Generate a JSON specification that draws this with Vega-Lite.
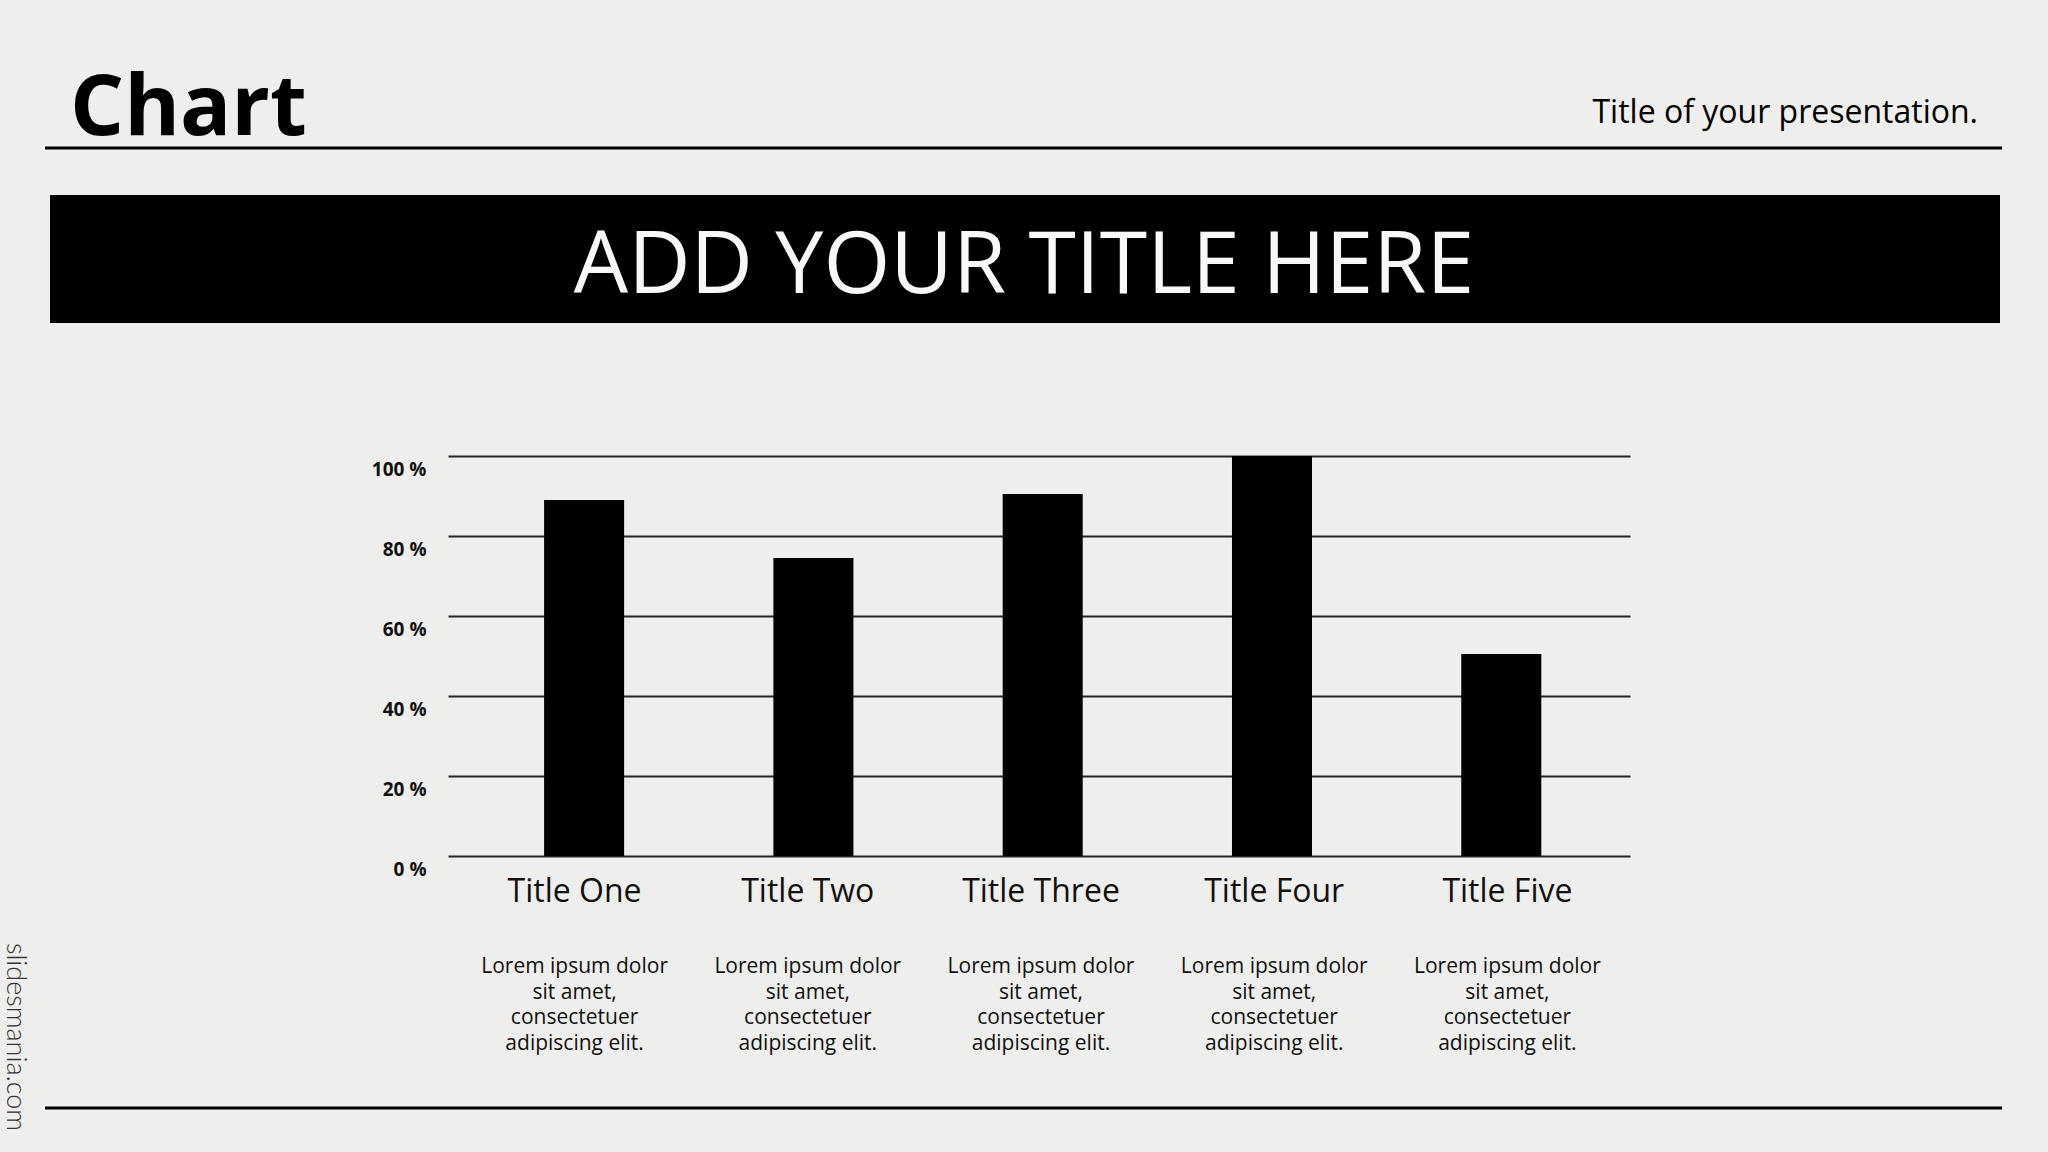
{
  "$schema": "https://vega.github.io/schema/vega-lite/v6.json",
  "width": 1182,
  "height": 400,
  "autosize": {"type": "none"},
  "padding": {"left": 448, "top": 456, "right": 418, "bottom": 296},
  "background": "#eeeeec",
  "config": {"view": {"stroke": null}, "font": "Open Sans"},
  "datasets": {
    "bars": [
      {"title": "Title One", "value": 89, "desc": "Lorem ipsum dolor\nsit amet,\nconsectetuer\nadipiscing elit."},
      {"title": "Title Two", "value": 74.5, "desc": "Lorem ipsum dolor\nsit amet,\nconsectetuer\nadipiscing elit."},
      {"title": "Title Three", "value": 90.5, "desc": "Lorem ipsum dolor\nsit amet,\nconsectetuer\nadipiscing elit."},
      {"title": "Title Four", "value": 100, "desc": "Lorem ipsum dolor\nsit amet,\nconsectetuer\nadipiscing elit."},
      {"title": "Title Five", "value": 50.5, "desc": "Lorem ipsum dolor\nsit amet,\nconsectetuer\nadipiscing elit."}
    ],
    "one": [{"k": 1}]
  },
  "resolve": {"scale": {"x": "independent"}, "axis": {"x": "independent"}},
  "layer": [
    {
      "data": {"name": "bars"},
      "mark": {"type": "bar", "color": "#000000"},
      "encoding": {
        "x": {
          "field": "title", "type": "nominal", "sort": null,
          "scale": {"paddingInner": 0.651, "paddingOuter": 0.403, "align": 0.52},
          "axis": null
        },
        "y": {
          "field": "value", "type": "quantitative",
          "scale": {"domain": [0, 100], "nice": false},
          "axis": {"title": null, "values": [0, 20, 40, 60, 80, 100], "labelExpr": "datum.value + ' %'", "ticks": false, "tickSize": 0, "domain": false, "labelFontSize": 19, "labelFontWeight": "bold", "labelFont": "Open Sans", "labelColor": "#111111", "labelPadding": 22, "labelOffset": 13.5, "gridColor": "#262626", "gridWidth": 2, "gridOpacity": 1}
        }
      }
    },
    {
      "data": {"name": "bars"},
      "layer": [
        {
          "mark": {"type": "text", "fontSize": 32, "align": "center", "baseline": "alphabetic", "color": "#111111", "font": "Open Sans"},
          "encoding": {
            "x": {"field": "title", "type": "nominal", "sort": null, "scale": {"type": "point", "padding": 0.5343, "align": 0.508}, "axis": null},
            "y": {"value": 446},
            "text": {"field": "title"}
          }
        },
        {
          "mark": {"type": "text", "fontSize": 21, "lineHeight": 25.5, "lineBreak": "\n", "align": "center", "baseline": "alphabetic", "color": "#111111", "font": "Open Sans"},
          "encoding": {
            "x": {"field": "title", "type": "nominal", "sort": null},
            "y": {"value": 517},
            "text": {"field": "desc"}
          }
        }
      ]
    },
    {
      "data": {"name": "one"},
      "mark": {"type": "text", "text": "Chart", "fontSize": 85, "fontWeight": "bold", "align": "left", "baseline": "alphabetic", "color": "#000000", "font": "Open Sans"},
      "encoding": {"x": {"value": -378}, "y": {"value": -321}}
    },
    {
      "data": {"name": "one"},
      "mark": {"type": "text", "text": "Title of your presentation.", "fontSize": 32, "align": "right", "baseline": "alphabetic", "color": "#000000", "font": "Open Sans"},
      "encoding": {"x": {"value": 1530}, "y": {"value": -333}}
    },
    {
      "data": {"name": "one"},
      "mark": {"type": "rule", "color": "#000000", "strokeWidth": 3},
      "encoding": {"x": {"value": -403}, "x2": {"value": 1554}, "y": {"value": -308}}
    },
    {
      "data": {"name": "one"},
      "mark": {"type": "rect", "color": "#000000"},
      "encoding": {"x": {"value": -398}, "x2": {"value": 1552}, "y": {"value": -261}, "y2": {"value": -133}}
    },
    {
      "data": {"name": "one"},
      "mark": {"type": "text", "text": "ADD YOUR TITLE HERE", "fontSize": 86, "align": "center", "baseline": "alphabetic", "color": "#f8f8f8", "font": "Open Sans"},
      "encoding": {"x": {"value": 576}, "y": {"value": -163}}
    },
    {
      "data": {"name": "one"},
      "mark": {"type": "rule", "color": "#000000", "strokeWidth": 3},
      "encoding": {"x": {"value": -403}, "x2": {"value": 1554}, "y": {"value": 652}}
    },
    {
      "data": {"name": "one"},
      "mark": {"type": "text", "text": "slidesmania.com", "fontSize": 27, "fontWeight": 300, "angle": 90, "align": "center", "baseline": "middle", "color": "#333333", "font": "Lato"},
      "encoding": {"x": {"value": -433}, "y": {"value": 581}}
    }
  ]
}
